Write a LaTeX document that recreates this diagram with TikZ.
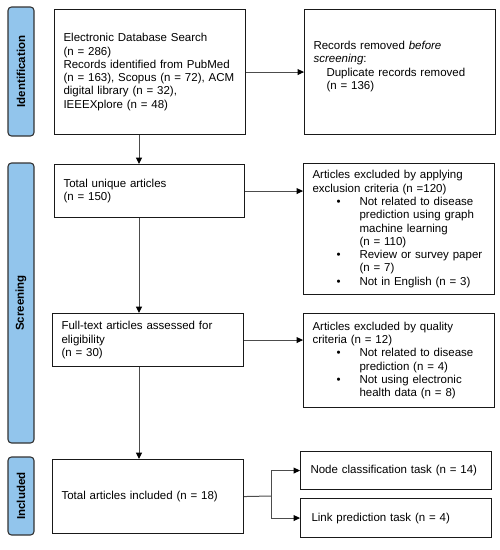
\documentclass[tikz,border=0pt]{standalone}
\usepackage{fontspec}
\setmainfont{Liberation Sans}
\usetikzlibrary{arrows.meta}
\definecolor{barblue}{RGB}{146,197,236}
\newcommand{\pbul}{\hspace*{24pt}\makebox[23pt][l]{\textbullet}}
\newcommand{\pind}{\hspace*{47pt}}
\begin{document}
\begin{tikzpicture}[x=1pt,y=-1pt,
  box/.style={draw=black!90, line width=1.1pt, rectangle, anchor=north west,
    inner xsep=9pt, inner ysep=0pt, text width=173pt, align=left,
    font=\fontsize{11.5}{13.3}\selectfont},
  bar/.style={draw=black!80, line width=1.1pt, fill=barblue, rounded corners=3.5pt,
    rotate=90, minimum height=26pt, inner sep=0pt,
    font=\fontsize{11.5}{13}\selectfont\bfseries},
  arr/.style={draw=black!70, line width=1pt, -{Triangle[length=6.5pt,width=6pt,color=black]}},
  con/.style={draw=black!70, line width=1pt}]
\useasboundingbox (0,0) rectangle (500,550);

% side bars
\node[bar, minimum width=129pt] (s1) at (21,71.5) {Identification};
\node[bar, minimum width=280pt] (s2) at (21,303) {Screening};
\node[bar, minimum width=78pt] (s3) at (21,496) {Included};

% left column
\node[box, minimum height=125pt] (b1) at (54,9) {Electronic Database Search\\
(n = 286)\\
Records identified from PubMed\\
(n = 163), Scopus (n = 72), ACM\\
digital library (n = 32),\\
IEEEXplore (n = 48)};
\node[box, minimum height=53pt, text width=172pt] (b2) at (54,164) {Total unique articles\\
(n = 150)};
\node[box, minimum height=53pt] (b3) at (52,313) {Full-text articles assessed for\\
eligibility\\
(n = 30)};
\node[box, minimum height=74pt] (b4) at (52,459) {Total articles included (n = 18)};

% right column
\node[box, minimum height=125pt] (r1) at (304,9) {Records removed \textit{before}\\
\textit{screening}:\\
\hspace*{13pt}Duplicate records removed\\
\hspace*{13pt}(n = 136)\\
\mbox{}};
\node[box, minimum height=131pt] (r2) at (303,163) {Articles excluded by applying\\
exclusion criteria (n =120)\\
\pbul Not related to disease\\
\pind prediction using graph\\
\pind machine learning\\
\pind (n = 110)\\
\pbul Review or survey paper\\
\pind (n = 7)\\
\pbul Not in English (n = 3)};
\node[box, minimum height=94pt] (r3) at (303,313) {Articles excluded by quality\\
criteria (n = 12)\\
\pbul Not related to disease\\
\pind prediction (n = 4)\\
\pbul Not using electronic\\
\pind health data (n = 8)};
\node[box, minimum height=38pt, inner xsep=10pt, text width=171pt] (n1) at (300,451) {Node classification task (n = 14)};
\node[box, minimum height=39pt, inner xsep=11pt, text width=169pt] (n2) at (300,498) {Link prediction task (n = 4)};

% connectors
\coordinate (cx) at (139,0);
\coordinate (j) at (271,496);
\draw[arr] (b1.south -| cx) -- (b2.north -| cx);
\draw[arr] (b2.south -| cx) -- (b3.north -| cx);
\draw[arr] (b3.south -| cx) -- (b4.north -| cx);
\draw[arr] (b1.east) -- (r1.west |- b1.east);
\draw[arr] (b2.east) -- (r2.west |- b2.east);
\draw[arr] (b3.east) -- (r3.west |- b3.east);
\draw[con] (b4.east) -- (j);
\draw[arr] (j) |- (n1.west);
\draw[arr] (j) |- (n2.west);
\end{tikzpicture}
\end{document}
